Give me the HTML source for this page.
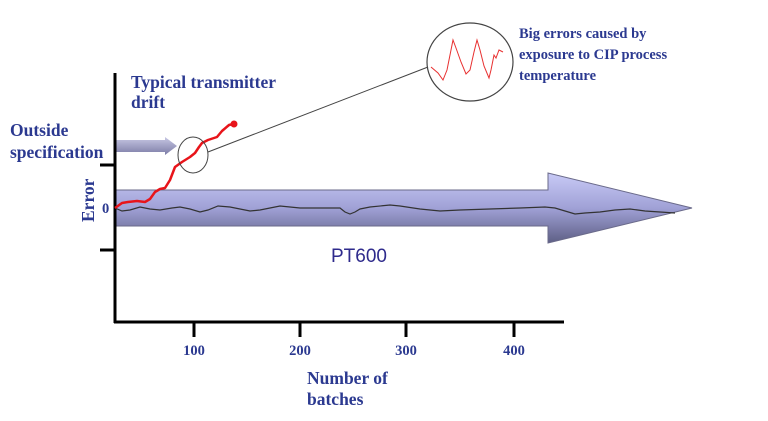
<!DOCTYPE html>
<html><head><meta charset="utf-8"><style>
body{margin:0;background:#fff;}
svg{display:block}
.t{font-family:"Liberation Serif",serif;font-weight:bold;fill:#2b3990;font-size:14.5px}
.b{font-size:17.5px}
</style></head><body>
<svg width="768" height="421" viewBox="0 0 768 421" xmlns="http://www.w3.org/2000/svg">
<defs>
<linearGradient id="g" x1="0" y1="0" x2="0" y2="1">
<stop offset="0" stop-color="#c8caf6"/><stop offset="0.5" stop-color="#a0a1d6"/><stop offset="1" stop-color="#5e5f85"/>
</linearGradient>
<linearGradient id="g2" x1="0" y1="0" x2="0" y2="1">
<stop offset="0" stop-color="#c8c8e4"/><stop offset="1" stop-color="#7c7ca6"/>
</linearGradient>
</defs>
<polygon points="115,190 548,190 548,173 692,208 548,243 548,226 115,226" fill="url(#g)" stroke="#6a6a8a" stroke-width="1"/>
<polyline points="115,208 122,211 130,210 140,207 150,209 160,210 172,208 180,207 190,209 200,212 208,210 218,206 230,207 240,209 250,211 260,210 270,208 280,206 290,207 300,208 340,208 345,212 350,214 355,212 360,209 370,207 390,205 400,206 420,209 440,211 460,210 490,209 520,208 545,207 555,208 565,211 575,214 585,213 600,212 615,210 630,209 645,211 660,212 675,213" fill="none" stroke="#333" stroke-width="1.2"/>
<polygon points="115,140 165,140 165,137 177,146 165,155 165,152 115,152" fill="url(#g2)"/>
<g stroke="#000" stroke-width="3" fill="none">
<line x1="115" y1="73" x2="115" y2="323"/>
<line x1="114" y1="322" x2="564" y2="322"/>
<line x1="100" y1="165" x2="115" y2="165"/>
<line x1="100" y1="250" x2="115" y2="250"/>
<line x1="194" y1="322" x2="194" y2="337"/>
<line x1="300" y1="322" x2="300" y2="337"/>
<line x1="406" y1="322" x2="406" y2="337"/>
<line x1="514" y1="322" x2="514" y2="337"/>
</g>
<polyline points="115,208 122,203 128,202 137,201 145,202 150,199 155,192 160,189 165,188 170,180 175,167 182,162 190,157 195,153 199,147 202,143 208,140 217,137 222,131 229,125 233,124" fill="none" stroke="#e8141a" stroke-width="2.5" stroke-linejoin="round"/>
<circle cx="234" cy="124" r="3.5" fill="#e8141a"/>
<ellipse cx="193" cy="155" rx="15" ry="18" fill="none" stroke="#444" stroke-width="1"/>
<line x1="208" y1="152" x2="428" y2="67" stroke="#444" stroke-width="1"/>
<ellipse cx="470" cy="62" rx="43" ry="39" fill="none" stroke="#444" stroke-width="1.2"/>
<polyline points="431,67 438,73 443,80 447,70 451,50 453,40 456,48 461,62 466,74 470,70 474,52 477,40 480,50 484,66 489,78 491,70 494,55 496,58 499,50 503,52" fill="none" stroke="#e83030" stroke-width="1"/>
<text class="t" x="519" y="38">Big errors caused by</text>
<text class="t" x="519" y="59">exposure to CIP process</text>
<text class="t" x="519" y="80">temperature</text>
<text class="t b" x="131" y="88">Typical transmitter</text>
<text class="t b" x="131" y="108">drift</text>
<text class="t b" x="10" y="136">Outside</text>
<text class="t b" x="10" y="158">specification</text>
<text class="t b" x="0" y="0" transform="translate(94,222) rotate(-90)">Error</text>
<text class="t" x="102" y="213">0</text>
<text class="t" x="194" y="355" text-anchor="middle">100</text>
<text class="t" x="300" y="355" text-anchor="middle">200</text>
<text class="t" x="406" y="355" text-anchor="middle">300</text>
<text class="t" x="514" y="355" text-anchor="middle">400</text>
<text class="t b" x="307" y="384">Number of</text>
<text class="t b" x="307" y="405">batches</text>
<text x="359" y="262" text-anchor="middle" font-family="Liberation Sans,sans-serif" font-size="19" fill="#2e2a8c">PT600</text>
</svg>
</body></html>
